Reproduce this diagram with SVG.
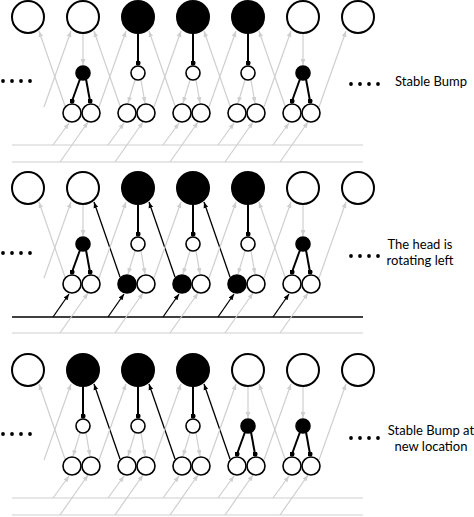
<svg xmlns="http://www.w3.org/2000/svg" width="474" height="517" viewBox="0 0 474 517">
<defs>
<style>
.bg{fill:#fff}
.big{stroke:#000;stroke-width:2}
.sm{stroke:#000;stroke-width:1.6}
.o{fill:#fff}
.f{fill:#000}
.g{stroke:#cfcfcf;stroke-width:1.2;fill:none}
.ga{stroke:#cfcfcf;stroke-width:1.2;fill:none;marker-end:url(#ag)}
.ka{stroke:#000;stroke-width:1.3;fill:none;marker-end:url(#ak)}
.kd{stroke:#000;stroke-width:2;fill:none;marker-end:url(#dot)}
.kl{stroke:#000;stroke-width:1.5;fill:none}
.dots circle{fill:#000}
text{font-family:Lato,"Liberation Sans",sans-serif;font-size:13px;fill:#000}
</style>
<marker id="ag" viewBox="0 0 10 10" markerUnits="userSpaceOnUse" markerWidth="6" markerHeight="6" refX="10" refY="5" orient="auto"><path d="M0,1 L10,5 L0,9 z" fill="#cfcfcf"/></marker>
<marker id="ak" viewBox="0 0 10 10" markerUnits="userSpaceOnUse" markerWidth="6" markerHeight="6" refX="10" refY="5" orient="auto"><path d="M0,1 L10,5 L0,9 z" fill="#000"/></marker>
<marker id="dot" viewBox="0 0 10 10" markerUnits="userSpaceOnUse" markerWidth="5" markerHeight="5" refX="5" refY="5"><circle cx="5" cy="5" r="5" fill="#000"/></marker>
</defs>
<rect class="bg" x="0" y="0" width="474" height="517"/>

<!-- ================= PANEL 1 ================= -->
<g id="panel1">
<g id="p1-connectors">
<line class="g" x1="12" y1="145" x2="363" y2="145"/>
<line class="g" x1="12" y1="162" x2="363" y2="162"/>
<line class="ga" x1="53" y1="145" x2="69" y2="123"/>
<line class="ga" x1="60" y1="162" x2="88" y2="122"/>
<line class="ga" x1="108" y1="145" x2="124" y2="123"/>
<line class="ga" x1="115" y1="162" x2="143" y2="122"/>
<line class="ga" x1="163" y1="145" x2="179" y2="123"/>
<line class="ga" x1="170" y1="162" x2="198" y2="122"/>
<line class="ga" x1="218" y1="145" x2="234" y2="123"/>
<line class="ga" x1="225" y1="162" x2="253" y2="122"/>
<line class="ga" x1="273" y1="145" x2="289" y2="123"/>
<line class="ga" x1="280" y1="162" x2="308" y2="122"/>
<line class="ga" x1="65" y1="106" x2="39" y2="31"/>
<line class="ga" x1="120" y1="106" x2="94" y2="31"/>
<line class="ga" x1="175" y1="106" x2="149" y2="31"/>
<line class="ga" x1="230" y1="106" x2="204" y2="31"/>
<line class="ga" x1="285" y1="106" x2="259" y2="31"/>
<line class="ga" x1="44" y1="107" x2="71" y2="31"/>
<line class="ga" x1="99" y1="107" x2="126" y2="31"/>
<line class="ga" x1="154" y1="107" x2="181" y2="31"/>
<line class="ga" x1="209" y1="107" x2="236" y2="31"/>
<line class="ga" x1="264" y1="107" x2="291" y2="31"/>
<line class="ga" x1="319" y1="107" x2="346" y2="31"/>
<line class="ga" x1="83" y1="34" x2="83" y2="65"/>
<line class="kd" x1="138" y1="33" x2="138" y2="63"/>
<line class="kd" x1="193" y1="33" x2="193" y2="63"/>
<line class="kd" x1="248" y1="33" x2="248" y2="63"/>
<line class="ga" x1="303" y1="34" x2="303" y2="65"/>
<line class="kd" x1="80" y1="79" x2="72" y2="101"/>
<line class="kd" x1="86" y1="79" x2="90" y2="101"/>
<line class="ga" x1="135" y1="80" x2="128" y2="103"/>
<line class="ga" x1="141" y1="80" x2="145" y2="103"/>
<line class="ga" x1="190" y1="80" x2="183" y2="103"/>
<line class="ga" x1="196" y1="80" x2="200" y2="103"/>
<line class="ga" x1="245" y1="80" x2="238" y2="103"/>
<line class="ga" x1="251" y1="80" x2="255" y2="103"/>
<line class="kd" x1="300" y1="79" x2="292" y2="101"/>
<line class="kd" x1="306" y1="79" x2="310" y2="101"/>
</g>
<g id="p1-top-1"><circle class="big o" cx="28" cy="17" r="16"/></g>
<g id="p1-top-2"><circle class="big o" cx="83" cy="17" r="16"/></g>
<g id="p1-top-3"><circle class="big f" cx="138" cy="17" r="16"/></g>
<g id="p1-top-4"><circle class="big f" cx="193" cy="17" r="16"/></g>
<g id="p1-top-5"><circle class="big f" cx="248" cy="17" r="16"/></g>
<g id="p1-top-6"><circle class="big o" cx="303" cy="17" r="16"/></g>
<g id="p1-top-7"><circle class="big o" cx="358" cy="17" r="16"/></g>
<g id="p1-mid-2"><circle class="sm f" cx="83" cy="73" r="7"/></g>
<g id="p1-mid-3"><circle class="sm o" cx="138" cy="73" r="7"/></g>
<g id="p1-mid-4"><circle class="sm o" cx="193" cy="73" r="7"/></g>
<g id="p1-mid-5"><circle class="sm o" cx="248" cy="73" r="7"/></g>
<g id="p1-mid-6"><circle class="sm f" cx="303" cy="73" r="7"/></g>
<g id="p1-L-2"><circle class="sm o" cx="72" cy="113" r="9"/></g>
<g id="p1-R-2"><circle class="sm o" cx="91" cy="113" r="9"/></g>
<g id="p1-L-3"><circle class="sm o" cx="127" cy="113" r="9"/></g>
<g id="p1-R-3"><circle class="sm o" cx="146" cy="113" r="9"/></g>
<g id="p1-L-4"><circle class="sm o" cx="182" cy="113" r="9"/></g>
<g id="p1-R-4"><circle class="sm o" cx="201" cy="113" r="9"/></g>
<g id="p1-L-5"><circle class="sm o" cx="237" cy="113" r="9"/></g>
<g id="p1-R-5"><circle class="sm o" cx="256" cy="113" r="9"/></g>
<g id="p1-L-6"><circle class="sm o" cx="292" cy="113" r="9"/></g>
<g id="p1-R-6"><circle class="sm o" cx="311" cy="113" r="9"/></g>
<g id="p1-dots-left" class="dots"><circle cx="3" cy="81" r="1.9"/><circle cx="12" cy="81" r="1.9"/><circle cx="21" cy="81" r="1.9"/><circle cx="30" cy="81" r="1.9"/></g>
<g id="p1-dots-right" class="dots"><circle cx="351" cy="84" r="1.9"/><circle cx="360" cy="84" r="1.9"/><circle cx="369" cy="84" r="1.9"/><circle cx="378" cy="84" r="1.9"/></g>
<text x="395" y="86">Stable Bump</text>
</g>

<!-- ================= PANEL 2 ================= -->
<g id="panel2" transform="translate(0,171)">
<g id="p2-connectors">
<line class="kl" x1="12" y1="146" x2="363" y2="146"/>
<line class="g" x1="12" y1="162" x2="363" y2="162"/>
<line class="ka" x1="53" y1="146" x2="69" y2="123"/>
<line class="ga" x1="60" y1="162" x2="88" y2="122"/>
<line class="ka" x1="108" y1="146" x2="124" y2="123"/>
<line class="ga" x1="115" y1="162" x2="143" y2="122"/>
<line class="ka" x1="163" y1="146" x2="179" y2="123"/>
<line class="ga" x1="170" y1="162" x2="198" y2="122"/>
<line class="ka" x1="218" y1="146" x2="234" y2="123"/>
<line class="ga" x1="225" y1="162" x2="253" y2="122"/>
<line class="ka" x1="273" y1="146" x2="289" y2="123"/>
<line class="ga" x1="280" y1="162" x2="308" y2="122"/>
<line class="ga" x1="65" y1="106" x2="39" y2="31"/>
<line class="ka" x1="120" y1="106" x2="94" y2="31"/>
<line class="ka" x1="175" y1="106" x2="149" y2="31"/>
<line class="ka" x1="230" y1="106" x2="204" y2="31"/>
<line class="ga" x1="285" y1="106" x2="259" y2="31"/>
<line class="ga" x1="44" y1="107" x2="71" y2="31"/>
<line class="ga" x1="99" y1="107" x2="126" y2="31"/>
<line class="ga" x1="154" y1="107" x2="181" y2="31"/>
<line class="ga" x1="209" y1="107" x2="236" y2="31"/>
<line class="ga" x1="264" y1="107" x2="291" y2="31"/>
<line class="ga" x1="319" y1="107" x2="346" y2="31"/>
<line class="ga" x1="83" y1="34" x2="83" y2="65"/>
<line class="kd" x1="138" y1="33" x2="138" y2="63"/>
<line class="kd" x1="193" y1="33" x2="193" y2="63"/>
<line class="kd" x1="248" y1="33" x2="248" y2="63"/>
<line class="ga" x1="303" y1="34" x2="303" y2="65"/>
<line class="kd" x1="80" y1="79" x2="72" y2="101"/>
<line class="kd" x1="86" y1="79" x2="90" y2="101"/>
<line class="ga" x1="135" y1="80" x2="128" y2="103"/>
<line class="ga" x1="141" y1="80" x2="145" y2="103"/>
<line class="ga" x1="190" y1="80" x2="183" y2="103"/>
<line class="ga" x1="196" y1="80" x2="200" y2="103"/>
<line class="ga" x1="245" y1="80" x2="238" y2="103"/>
<line class="ga" x1="251" y1="80" x2="255" y2="103"/>
<line class="kd" x1="300" y1="79" x2="292" y2="101"/>
<line class="kd" x1="306" y1="79" x2="310" y2="101"/>
</g>
<g id="p2-top-1"><circle class="big o" cx="28" cy="17" r="16"/></g>
<g id="p2-top-2"><circle class="big o" cx="83" cy="17" r="16"/></g>
<g id="p2-top-3"><circle class="big f" cx="138" cy="17" r="16"/></g>
<g id="p2-top-4"><circle class="big f" cx="193" cy="17" r="16"/></g>
<g id="p2-top-5"><circle class="big f" cx="248" cy="17" r="16"/></g>
<g id="p2-top-6"><circle class="big o" cx="303" cy="17" r="16"/></g>
<g id="p2-top-7"><circle class="big o" cx="358" cy="17" r="16"/></g>
<g id="p2-mid-2"><circle class="sm f" cx="83" cy="73" r="7"/></g>
<g id="p2-mid-3"><circle class="sm o" cx="138" cy="73" r="7"/></g>
<g id="p2-mid-4"><circle class="sm o" cx="193" cy="73" r="7"/></g>
<g id="p2-mid-5"><circle class="sm o" cx="248" cy="73" r="7"/></g>
<g id="p2-mid-6"><circle class="sm f" cx="303" cy="73" r="7"/></g>
<g id="p2-L-2"><circle class="sm o" cx="72" cy="113" r="9"/></g>
<g id="p2-R-2"><circle class="sm o" cx="91" cy="113" r="9"/></g>
<g id="p2-L-3"><circle class="sm f" cx="127" cy="113" r="9"/></g>
<g id="p2-R-3"><circle class="sm o" cx="146" cy="113" r="9"/></g>
<g id="p2-L-4"><circle class="sm f" cx="182" cy="113" r="9"/></g>
<g id="p2-R-4"><circle class="sm o" cx="201" cy="113" r="9"/></g>
<g id="p2-L-5"><circle class="sm f" cx="237" cy="113" r="9"/></g>
<g id="p2-R-5"><circle class="sm o" cx="256" cy="113" r="9"/></g>
<g id="p2-L-6"><circle class="sm o" cx="292" cy="113" r="9"/></g>
<g id="p2-R-6"><circle class="sm o" cx="311" cy="113" r="9"/></g>
<g id="p2-dots-left" class="dots"><circle cx="3" cy="82" r="1.9"/><circle cx="12" cy="82" r="1.9"/><circle cx="21" cy="82" r="1.9"/><circle cx="30" cy="82" r="1.9"/></g>
<g id="p2-dots-right" class="dots"><circle cx="351" cy="85" r="1.9"/><circle cx="360" cy="85" r="1.9"/><circle cx="369" cy="85" r="1.9"/><circle cx="378" cy="85" r="1.9"/></g>
</g>
<text x="420" y="249" text-anchor="middle">The head is</text>
<text x="420" y="265" text-anchor="middle">rotating left</text>

<!-- ================= PANEL 3 ================= -->
<g id="panel3" transform="translate(0,353)">
<g id="p3-connectors">
<line class="g" x1="12" y1="145" x2="363" y2="145"/>
<line class="g" x1="12" y1="162" x2="363" y2="162"/>
<line class="ga" x1="53" y1="145" x2="69" y2="123"/>
<line class="ga" x1="60" y1="162" x2="88" y2="122"/>
<line class="ga" x1="108" y1="145" x2="124" y2="123"/>
<line class="ga" x1="115" y1="162" x2="143" y2="122"/>
<line class="ga" x1="163" y1="145" x2="179" y2="123"/>
<line class="ga" x1="170" y1="162" x2="198" y2="122"/>
<line class="ga" x1="218" y1="145" x2="234" y2="123"/>
<line class="ga" x1="225" y1="162" x2="253" y2="122"/>
<line class="ga" x1="273" y1="145" x2="289" y2="123"/>
<line class="ga" x1="280" y1="162" x2="308" y2="122"/>
<line class="ga" x1="65" y1="106" x2="39" y2="31"/>
<line class="ka" x1="120" y1="106" x2="94" y2="31"/>
<line class="ka" x1="175" y1="106" x2="149" y2="31"/>
<line class="ka" x1="230" y1="106" x2="204" y2="31"/>
<line class="ga" x1="285" y1="106" x2="259" y2="31"/>
<line class="ga" x1="44" y1="107" x2="71" y2="31"/>
<line class="ga" x1="99" y1="107" x2="126" y2="31"/>
<line class="ga" x1="154" y1="107" x2="181" y2="31"/>
<line class="ga" x1="209" y1="107" x2="236" y2="31"/>
<line class="ga" x1="264" y1="107" x2="291" y2="31"/>
<line class="ga" x1="319" y1="107" x2="346" y2="31"/>
<line class="kd" x1="83" y1="33" x2="83" y2="63"/>
<line class="kd" x1="138" y1="33" x2="138" y2="63"/>
<line class="kd" x1="193" y1="33" x2="193" y2="63"/>
<line class="ga" x1="248" y1="34" x2="248" y2="65"/>
<line class="ga" x1="303" y1="34" x2="303" y2="65"/>
<line class="ga" x1="80" y1="80" x2="73" y2="103"/>
<line class="ga" x1="86" y1="80" x2="90" y2="103"/>
<line class="ga" x1="135" y1="80" x2="128" y2="103"/>
<line class="ga" x1="141" y1="80" x2="145" y2="103"/>
<line class="ga" x1="190" y1="80" x2="183" y2="103"/>
<line class="ga" x1="196" y1="80" x2="200" y2="103"/>
<line class="kd" x1="245" y1="79" x2="237" y2="101"/>
<line class="kd" x1="251" y1="79" x2="255" y2="101"/>
<line class="kd" x1="300" y1="79" x2="292" y2="101"/>
<line class="kd" x1="306" y1="79" x2="310" y2="101"/>
</g>
<g id="p3-top-1"><circle class="big o" cx="28" cy="17" r="16"/></g>
<g id="p3-top-2"><circle class="big f" cx="83" cy="17" r="16"/></g>
<g id="p3-top-3"><circle class="big f" cx="138" cy="17" r="16"/></g>
<g id="p3-top-4"><circle class="big f" cx="193" cy="17" r="16"/></g>
<g id="p3-top-5"><circle class="big o" cx="248" cy="17" r="16"/></g>
<g id="p3-top-6"><circle class="big o" cx="303" cy="17" r="16"/></g>
<g id="p3-top-7"><circle class="big o" cx="358" cy="17" r="16"/></g>
<g id="p3-mid-2"><circle class="sm o" cx="83" cy="73" r="7"/></g>
<g id="p3-mid-3"><circle class="sm o" cx="138" cy="73" r="7"/></g>
<g id="p3-mid-4"><circle class="sm o" cx="193" cy="73" r="7"/></g>
<g id="p3-mid-5"><circle class="sm f" cx="248" cy="73" r="7"/></g>
<g id="p3-mid-6"><circle class="sm f" cx="303" cy="73" r="7"/></g>
<g id="p3-L-2"><circle class="sm o" cx="72" cy="113" r="9"/></g>
<g id="p3-R-2"><circle class="sm o" cx="91" cy="113" r="9"/></g>
<g id="p3-L-3"><circle class="sm o" cx="127" cy="113" r="9"/></g>
<g id="p3-R-3"><circle class="sm o" cx="146" cy="113" r="9"/></g>
<g id="p3-L-4"><circle class="sm o" cx="182" cy="113" r="9"/></g>
<g id="p3-R-4"><circle class="sm o" cx="201" cy="113" r="9"/></g>
<g id="p3-L-5"><circle class="sm o" cx="237" cy="113" r="9"/></g>
<g id="p3-R-5"><circle class="sm o" cx="256" cy="113" r="9"/></g>
<g id="p3-L-6"><circle class="sm o" cx="292" cy="113" r="9"/></g>
<g id="p3-R-6"><circle class="sm o" cx="311" cy="113" r="9"/></g>
<g id="p3-dots-left" class="dots"><circle cx="3" cy="81" r="1.9"/><circle cx="12" cy="81" r="1.9"/><circle cx="21" cy="81" r="1.9"/><circle cx="30" cy="81" r="1.9"/></g>
<g id="p3-dots-right" class="dots"><circle cx="351" cy="85" r="1.9"/><circle cx="360" cy="85" r="1.9"/><circle cx="369" cy="85" r="1.9"/><circle cx="378" cy="85" r="1.9"/></g>
</g>
<text x="431" y="435" text-anchor="middle">Stable Bump at</text>
<text x="431" y="451" text-anchor="middle">new location</text>
</svg>
